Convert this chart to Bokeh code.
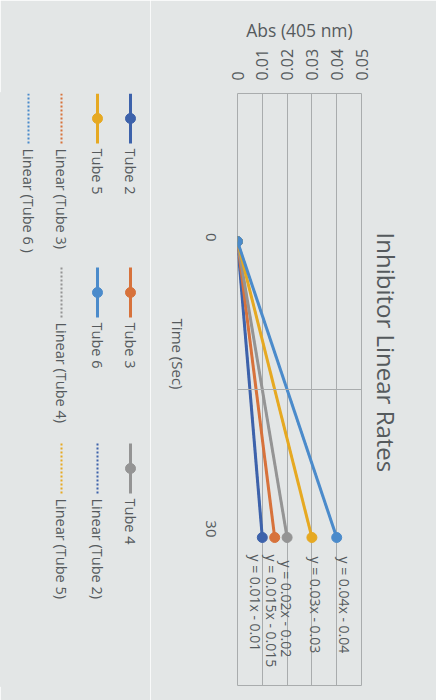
import math
from bokeh.plotting import figure
from bokeh.models import FactorRange, Range1d, FixedTicker, NumeralTickFormatter, Span, Title
from bokeh.layouts import row
from bokeh.embed import file_html
from bokeh.resources import INLINE
from bokeh.core.properties import value

# ---------------- data ----------------
title_text = "Inhibitor Linear Rates"
x_title = "Time (Sec)"
y_title = "Abs (405 nm)"
time_labels = ["0", "30"]
abs_ticks = [0, 0.01, 0.02, 0.03, 0.04, 0.05]
series_names = ["Tube 2", "Tube 3", "Tube 4", "Tube 5", "Tube 6"]
tube2 = [0.0, 0.01]
tube3 = [0.0, 0.015]
tube4 = [0.0, 0.02]
tube5 = [0.0, 0.03]
tube6 = [0.0, 0.04]
trend_slopes = [0.01, 0.015, 0.02, 0.03, 0.04]
trend_intercepts = [-0.01, -0.015, -0.02, -0.03, -0.04]
trend_labels = ["y = 0.01x - 0.01", "y = 0.015x - 0.015", "y = 0.02x - 0.02",
                "y = 0.03x - 0.03", "y = 0.04x - 0.04"]
trend_names = ["Linear (Tube 2)", "Linear (Tube 3)", "Linear (Tube 4)",
               "Linear (Tube 5)", "Linear (Tube 6 )"]

# ---------------- style ----------------
series_values = [tube2, tube3, tube4, tube5, tube6]
colors = ["#3d62ab", "#d7723b", "#949494", "#e6a922", "#4b8bcb"]
BG = "#e3e6e6"
TXT = "#555a5d"
GRID = "#a9acad"
FONT = "Open Sans"
H = 700
LEG_W = 150
MAIN_W = 286
TOP, BOTTOM = 93, 15

# ---------------- main plot ----------------
p = figure(width=MAIN_W, height=H,
           x_range=Range1d(0, 0.05),
           y_range=FactorRange(factors=time_labels[::-1]),
           x_axis_location="above", title=None,
           output_backend="svg", toolbar_location=None,
           min_border_left=87, min_border_right=75,
           min_border_top=TOP, min_border_bottom=BOTTOM)
p.background_fill_color = BG
p.border_fill_color = BG
p.outline_line_color = GRID
p.outline_line_width = 1

xa = p.xaxis[0]
xa.ticker = FixedTicker(ticks=abs_ticks)
xa.formatter = NumeralTickFormatter(format="0.[00]")
xa.major_label_orientation = math.pi / 2
xa.major_tick_out = 0
xa.major_tick_in = 0
xa.minor_tick_out = 0
xa.minor_tick_in = 0
xa.axis_line_color = None
xa.major_label_standoff = 13
xa.major_label_text_font = FONT
xa.major_label_text_font_size = "16px"
xa.major_label_text_color = TXT
xa.axis_label = y_title
xa.axis_label_standoff = 4
xa.axis_label_text_font = FONT
xa.axis_label_text_font_size = "17.5px"
xa.axis_label_text_font_style = "normal"
xa.axis_label_text_color = TXT

ya = p.yaxis[0]
ya.major_label_orientation = -math.pi / 2
ya.major_tick_out = 0
ya.major_tick_in = 0
ya.axis_line_color = None
ya.major_label_standoff = 27
ya.major_label_text_font = FONT
ya.major_label_text_font_size = "15px"
ya.major_label_text_color = TXT
ya.axis_label = x_title
ya.axis_label_orientation = -math.pi / 2
ya.axis_label_standoff = 20
ya.axis_label_text_font = FONT
ya.axis_label_text_font_size = "15px"
ya.axis_label_text_font_style = "normal"
ya.axis_label_text_color = TXT

p.xgrid.ticker = FixedTicker(ticks=abs_ticks)
p.xgrid.grid_line_color = GRID
p.xgrid.grid_line_width = 1
p.ygrid.visible = False
p.add_layout(Span(location=1, dimension="width", line_color=GRID, line_width=1))

# trendlines (Excel x positions 1 and 2 for the two categories)
trend_x = [1, 2]
for slope, icpt, color in zip(trend_slopes, trend_intercepts, colors):
    vals = [slope * t + icpt for t in trend_x]
    p.line(x=vals, y=time_labels, line_color=color, line_width=2, line_dash="2 2")

for vals, color in zip(series_values, colors):
    p.line(x=vals, y=time_labels, line_color=color, line_width=3)
    p.scatter(x=vals, y=time_labels, size=10, fill_color=color, line_color=color)

eq_x_offsets = [-7, -3, -1, 4, 8]
eq_y_offsets = [17, 17, 23, 19, 19]
p.text(x=[v[-1] for v in series_values], y=[time_labels[-1]] * 5, text=trend_labels,
       angle=-math.pi / 2, text_align="left", text_baseline="middle",
       x_offset=eq_x_offsets, y_offset=eq_y_offsets,
       text_font_size="14px", text_color=TXT, text_font=value(FONT))

p.add_layout(Title(text=title_text, align="left", offset=139, vertical_align="bottom",
                   standoff=16, text_font=FONT, text_font_size="24px",
                   text_font_style="normal", text_color=TXT), "right")

# ---------------- legend (rotated, drawn in its own panel) ----------------
# the row aligns this panel's frame with the main frame (TOP .. H-BOTTOM)
leg = figure(width=LEG_W, height=H, x_range=Range1d(0, LEG_W), y_range=Range1d(H - BOTTOM, TOP),
             x_axis_type=None, y_axis_type=None, title=None, output_backend="svg",
             toolbar_location=None, min_border_left=0, min_border_right=0,
             min_border_top=TOP, min_border_bottom=BOTTOM)
leg.background_fill_color = BG
leg.border_fill_color = BG
leg.outline_line_color = BG
leg.outline_line_width = 3
leg.grid.visible = False

row_x = [130, 97, 61, 28]
col_y = [93, 267, 443]
glyph_len = 50
text_gap = 55

entries = [(n, c, False) for n, c in zip(series_names, colors)] + \
          [(n, c, True) for n, c in zip(trend_names, colors)]
tx, ty, tt = [], [], []
for i, (name, color, dotted) in enumerate(entries):
    r, c = divmod(i, 3)
    x0 = row_x[r]
    y0 = col_y[c]
    if dotted:
        leg.line(x=[x0, x0], y=[y0, y0 + glyph_len], line_color=color, line_width=2, line_dash="2 2")
    else:
        leg.line(x=[x0, x0], y=[y0, y0 + glyph_len], line_color=color, line_width=3)
        leg.scatter(x=[x0], y=[y0 + glyph_len / 2], size=10, fill_color=color, line_color=color)
    tx.append(x0)
    ty.append(y0 + text_gap)
    tt.append(name)
leg.text(x=tx, y=ty, text=tt, angle=-math.pi / 2, text_align="left", text_baseline="middle",
         text_font=value(FONT), text_font_size="14.5px", text_color=TXT)

layout = row(leg, p)
open("out.html", "w").write(file_html(layout, INLINE))
